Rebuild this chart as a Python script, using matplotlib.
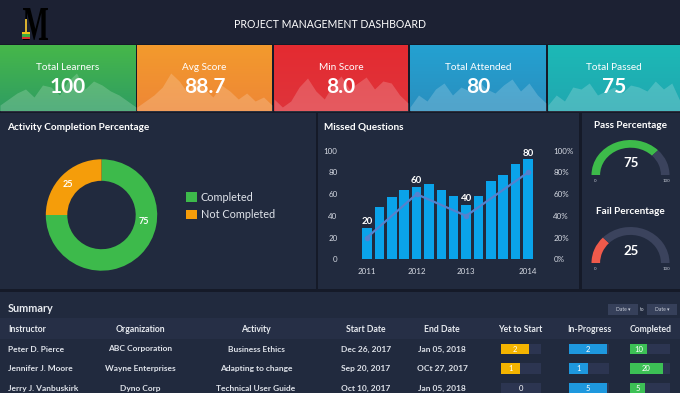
import numpy as np
import matplotlib
matplotlib.use("Agg")
import matplotlib.pyplot as plt
from matplotlib.patches import Rectangle, PathPatch
from matplotlib.colors import LinearSegmentedColormap
from matplotlib.textpath import TextPath
from matplotlib.font_manager import FontProperties
from matplotlib.transforms import Affine2D

plt.rcParams['font.family'] = ['Lato', 'DejaVu Sans']

W, H = 680, 393

################################################################################
# data
kpi_titles = ["Total Learners", "Avg Score", "Min Score", "Total Attended", "Total Passed"]
kpi_values = ["100", "88.7", "8.0", "80", "75"]
spark_green = [6, 12, 18, 22, 14, 26, 24, 16, 30, 38, 22, 30, 26, 20, 16, 10, 4]
spark_orange = [4, 10, 16, 24, 38, 30, 18, 32, 22, 14, 26, 20, 12, 18, 10, 14, 6]
spark_red = [12, 4, 10, 24, 33, 20, 12, 26, 35, 22, 28, 34, 22, 30, 28, 16, 8]
spark_blue = [4, 16, 10, 22, 28, 16, 24, 20, 30, 22, 18, 26, 32, 20, 28, 16, 8]
spark_teal = [6, 16, 10, 24, 22, 28, 16, 20, 24, 18, 26, 24, 20, 30, 22, 28, 10]
sparks = [spark_green, spark_orange, spark_red, spark_blue, spark_teal]

completion_labels = ["Completed", "Not Completed"]
completion_values = [75, 25]

missed_bars = [29, 48, 57, 64, 67, 69, 64, 58, 50, 58, 72, 78, 88, 92]
missed_line_idx = [0, 4, 8, 13]
missed_line_pct = [20, 60, 40, 80]
year_labels = ["2011", "2012", "2013", "2014"]

pass_pct = 75
fail_pct = 25

col_headers = ["Instructor", "Organization", "Activity", "Start Date", "End Date",
	"Yet to Start", "In-Progress", "Completed"]
instructors = ["Peter D. Pierce", "Jennifer J. Moore", "Jerry J. Vanbuskirk"]
organizations = ["ABC Corporation", "Wayne Enterprises", "Dyno Corp"]
activities = ["Business Ethics", "Adapting to change", "Technical User Guide"]
start_dates = ["Dec 26, 2017", "Sep 20, 2017", "Oct 10, 2017"]
end_dates = ["Jan 05, 2018", "OCt 27, 2017", "Jan 05, 2018"]
yet_to_start = [2, 1, 0]
in_progress = [2, 1, 5]
completed = [10, 20, 5]
# how full each little progress bar is drawn (percent of its track)
yet_fill = [70, 48, 0]
prog_fill = [95, 48, 95]
comp_fill = [42, 82, 38]

################################################################################
fig = plt.figure(figsize=(6.8, 3.93), dpi=100)
fig.patch.set_facecolor('#151a28')

def px_axes(x0, y0, x1, y1):
	return fig.add_axes([x0 / W, 1 - y1 / H, (x1 - x0) / W, (y1 - y0) / H])

bg = fig.add_axes([0, 0, 1, 1])
bg.set_xlim(0, W)
bg.set_ylim(H, 0)
bg.axis('off')

panel = '#212a3e'
bg.add_patch(Rectangle((0, 0), W, 44, color='#1c2133', lw=0))
bg.add_patch(Rectangle((0, 113), 316, 176, color=panel, lw=0))
bg.add_patch(Rectangle((318, 113), 261, 176, color=panel, lw=0))
bg.add_patch(Rectangle((582, 113), 98, 176, color=panel, lw=0))
bg.add_patch(Rectangle((0, 292), W, 101, color=panel, lw=0))
bg.add_patch(Rectangle((0, 318), W, 21, color='#262f46', lw=0))

## logo: condensed serif M with a little paint brush
tp = TextPath((0, 0), "M", size=1, prop=FontProperties(family='Liberation Serif', weight='bold'))
ext = tp.get_extents()
tr = Affine2D().translate(-ext.x0, -ext.y0).scale(25 / ext.width, -32 / ext.height).translate(23, 40)
bg.add_patch(PathPatch(tr.transform_path(tp), color='black', lw=0))
bg.add_patch(Rectangle((25, 19), 1.8, 13, color='#d8b030', lw=0))
bg.add_patch(Rectangle((22, 32), 8, 2.3, color='#f2c21b', lw=0))
bg.add_patch(Rectangle((22, 34.3), 8, 2.4, color='#3fae3f', lw=0))
bg.add_patch(Rectangle((22, 36.7), 8, 2.4, color='#d9302c', lw=0))

bg.text(330, 24, "PROJECT MANAGEMENT DASHBOARD", ha='center', va='center',
	fontsize=7.6, color='white')

## kpi cards
card_edges = [(0, 136), (137, 272), (274, 408), (410, 546), (548, 680)]
card_cols = [('#46b74a', '#2f9d62'), ('#f39a2d', '#ee8736'), ('#e42b31', '#df343b'),
	('#24a1d1', '#2a8fbf'), ('#1cb9b6', '#21a7b0')]
grad = np.linspace(0, 1, 50).reshape(-1, 1)
for i in range(5):
	x0, x1 = card_edges[i]
	ax = px_axes(x0, 45, x1, 111)
	cmap = LinearSegmentedColormap.from_list('c%d' % i, [card_cols[i][1], card_cols[i][0]])
	ax.imshow(grad, extent=[0, 1, 0, 1], aspect='auto', cmap=cmap, origin='lower')
	s = np.array(sparks[i]) / 66.
	ax.fill_between(np.linspace(0, 1, len(s)), 0, s, color='white', alpha=0.19, lw=0)
	ax.set_xlim(0, 1)
	ax.set_ylim(0, 1)
	ax.axis('off')
	ax.text(0.5, 0.665, kpi_titles[i], ha='center', va='center', fontsize=7.2, color='white',
		transform=ax.transAxes)
	ax.text(0.5, 0.36, kpi_values[i], ha='center', va='center', fontsize=15, color='white',
		fontweight='bold', transform=ax.transAxes)

## donut
bg.text(7, 127, "Activity Completion Percentage", ha='left', va='center', fontsize=7.2,
	color='white', fontweight='bold')
ax = px_axes(101.5 - 58, 215 - 58, 101.5 + 58, 215 + 58)
wedges, _ = ax.pie(completion_values, colors=['#3dba4b', '#f59d0a'], startangle=90,
	counterclock=False, radius=55.7 / 58, wedgeprops=dict(width=21.5 / 58, edgecolor='none'))
ax.set_xlim(-1, 1)
ax.set_ylim(-1, 1)
ax.text(0.733, -0.12, str(completion_values[0]), ha='center', va='center', fontsize=6.5,
	color='white', fontweight='bold')
ax.text(-0.583, 0.534, str(completion_values[1]), ha='center', va='center', fontsize=6.5,
	color='white', fontweight='bold')
fig.legend(wedges, completion_labels, loc='center left', bbox_to_anchor=(176 / W, 1 - 206 / H),
	frameon=False, fontsize=7.8, labelcolor='#dfe3ea', handlelength=1.0, handleheight=1.0,
	handletextpad=0.4, labelspacing=0.6)

## missed questions
bg.text(324, 127, "Missed Questions", ha='left', va='center', fontsize=7.2,
	color='white', fontweight='bold')
ax = px_axes(358.3, 150.7, 536.7, 259.3)
x = np.arange(len(missed_bars))
ax.bar(x, missed_bars, width=0.77, color='#0aa3ea', zorder=2)
ax.set_xlim(-0.7, len(missed_bars) - 0.3)
ax.set_ylim(0, 100)
ax.set_facecolor('none')
for sp in ax.spines.values():
	sp.set_visible(False)
ax.set_yticks(np.arange(0, 101, 20))
ax.set_xticks(missed_line_idx)
ax.set_xticklabels(year_labels)
ax.tick_params(axis='y', length=0, labelsize=5.8, labelcolor='#d5d9e2', pad=15)
ax.tick_params(axis='x', length=0, labelsize=5.8, labelcolor='#d5d9e2', pad=6)
for i, v in zip(missed_line_idx, missed_line_pct):
	ax.text(i, missed_bars[i] + 1.5, str(v), ha='center', va='bottom', fontsize=7,
		color='white', fontweight='bold', zorder=4)
ax2 = ax.twinx()
ax2.plot(missed_line_idx, missed_line_pct, color='#5482cf', lw=1.6, marker='o', ms=3, zorder=3)
ax2.set_ylim(0, 100)
ax2.set_yticks(np.arange(0, 101, 20))
ax2.set_yticklabels(["%d%%" % t for t in range(0, 101, 20)])
ax2.tick_params(axis='y', length=0, labelsize=5.8, labelcolor='#d5d9e2', pad=12)
for sp in ax2.spines.values():
	sp.set_visible(False)

## gauges
def gauge(cy, ry, pct, col, title, ty):
	bg.text(630.5, ty, title, ha='center', va='center', fontsize=7.2, color='white',
		fontweight='bold')
	ax = px_axes(630.5 - 42, cy - ry - 2, 630.5 + 42, cy + 2)
	ax.pie([pct, 100 - pct, 100], colors=[col, '#3b435d', 'none'], startangle=180,
		counterclock=False, radius=1, wedgeprops=dict(width=0.22, edgecolor='none'))
	ax.set_aspect('auto')
	ax.set_xlim(-42 / 39., 42 / 39.)
	ax.set_ylim(-2. / ry, (ry + 2.) / ry)
	bg.text(631, cy - 12, str(pct), ha='center', va='center', fontsize=9.5, color='white',
		fontweight='bold')
	bg.text(595, cy + 5.5, "0", ha='center', va='center', fontsize=3.2, color='#c9ced9')
	bg.text(666, cy + 5.5, "100", ha='center', va='center', fontsize=3.2, color='#c9ced9')

gauge(175, 35, pass_pct, '#3dbb4a', "Pass Percentage", 126)
gauge(263, 36, fail_pct, '#f05a4b', "Fail Percentage", 211)

## summary table
bg.text(8, 309, "Summary", ha='left', va='center', fontsize=7.8, color='#e8ebf0',
	fontweight='bold')
bg.add_patch(Rectangle((608, 304), 30, 11, color='#36405a', lw=0))
bg.add_patch(Rectangle((647, 304), 30, 11, color='#36405a', lw=0))
bg.text(623, 309.5, "Date \u25be", ha='center', va='center', fontsize=3.6, color='#c9ced9')
bg.text(642.5, 309.5, "to", ha='center', va='center', fontsize=3.6, color='#c9ced9')
bg.text(662, 309.5, "Date \u25be", ha='center', va='center', fontsize=3.6, color='#c9ced9')

col_x = [8, 140, 256, 366, 442, 520, 589, 651]
col_ha = ['left'] + ['center'] * 7
row_y = [349, 368.5, 388.5]
for j in range(8):
	bg.text(col_x[j], 329, col_headers[j], ha=col_ha[j], va='center', fontsize=6.2,
		color='#e8ebf0', fontweight='bold')
txt_cols = [instructors, organizations, activities, start_dates, end_dates]
for j in range(5):
	for r in range(3):
		bg.text(col_x[j], row_y[r], txt_cols[j][r], ha=col_ha[j], va='center', fontsize=6.0,
			color='#dfe3ea', fontweight='bold')

track_x = [501, 569, 630]
track_w = 40
bar_sets = [(yet_to_start, yet_fill, '#f4b400'), (in_progress, prog_fill, '#1e98de'),
	(completed, comp_fill, '#3cc055')]
for k in range(3):
	vals, fills, col = bar_sets[k]
	bg.barh(row_y, [track_w] * 3, left=track_x[k], height=10.5, color='#2c3551', lw=0)
	fw = np.array(fills) / 100. * track_w
	bg.barh(row_y, fw, left=track_x[k], height=10.5, color=col, lw=0)
	for r in range(3):
		cx = track_x[k] + (fw[r] / 2 if fw[r] > 0 else track_w / 2)
		bg.text(cx, row_y[r] + 0.3, str(vals[r]), ha='center', va='center', fontsize=5.5,
			color='white')

plt.savefig('out.png', dpi=100, facecolor=fig.get_facecolor())
plt.close()
